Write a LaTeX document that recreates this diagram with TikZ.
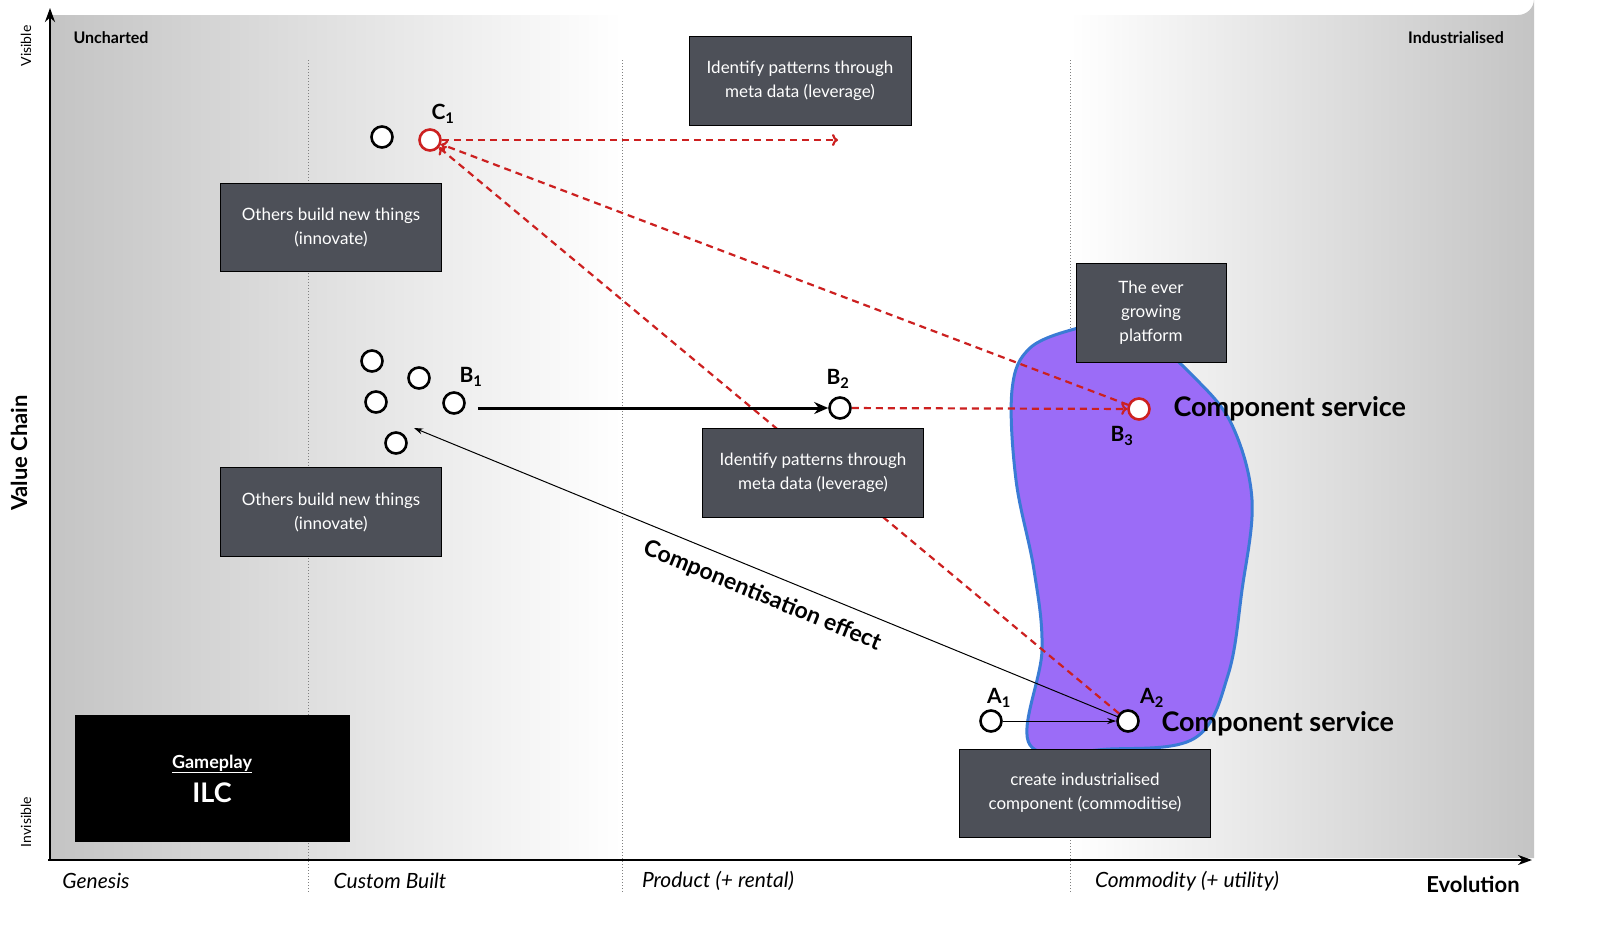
\documentclass[tikz,border=0pt]{standalone}
\usepackage{fontspec}
\setmainfont{Lato}
\usetikzlibrary{arrows.meta}
\definecolor{boxg}{HTML}{4D5058}
\definecolor{bgg}{HTML}{C4C4C4}
\definecolor{blob}{HTML}{9B6CF7}
\definecolor{blobb}{HTML}{3A7BD5}
\definecolor{rd}{HTML}{CC2020}
\begin{document}
\begin{tikzpicture}[x=1pt,y=-1pt,
  box/.style={fill=boxg,draw=black,line width=0.8pt,text=white,align=center,font=\fontsize{17}{24}\selectfont,inner sep=0pt},
  dot/.style={circle,draw=black,line width=2.6pt,fill=white,minimum size=21pt,inner sep=0pt},
  rdot/.style={dot,draw=rd},
  lab/.style={font=\bfseries\fontsize{21}{24}\selectfont},
  cs/.style={font=\bfseries\fontsize{27}{30}\selectfont,anchor=west},
  ax/.style={font=\itshape\fontsize{21}{24}\selectfont},
  rarr/.style={rd,dashed,line width=2.2pt,dash pattern=on 7pt off 5pt,-{To[length=6pt,width=12pt]}},
  vl/.style={gray,dotted,line width=1pt}]
\useasboundingbox (0,0) rectangle (1600,930);
\fill[white] (0,0) rectangle (1600,930);
% background
\shade[left color=bgg,right color=white] (50,15) rectangle (622,858);
\shade[left color=white,right color=bgg] (1070,15) -- (1518,15) arc[start angle=90,end angle=0,radius=16] -- (1534,858) -- (1070,858) -- cycle;
% dotted lines
\foreach \x in {308,622,1070} \draw[vl] (\x,60) -- (\x,893);
% axes
\draw[line width=2.5pt,-{Stealth[length=14pt,width=10pt]}] (50,860) -- (50,8);
\draw[line width=2.5pt,-{Stealth[length=14pt,width=10pt]}] (48,860) -- (1532,860);
\node[ax] (g) at (96,881) {Genesis};
\node[ax] (cb) at (390,881) {Custom Built};
\node[ax] (pr) at (718,881) {Product (+ rental)};
\node[ax] (co) at (1187,881) {Commodity (+ utility)};
\node[font=\bfseries\fontsize{22}{24}\selectfont] (ev) at (1473,884) {Evolution};
\node[rotate=90,font=\bfseries\fontsize{22}{24}\selectfont] (vc) at (19,453) {Value Chain};
\node[rotate=90,font=\fontsize{14}{16}\selectfont] (vis) at (26,46) {Visible};
\node[rotate=90,font=\fontsize{14}{16}\selectfont] (inv) at (26,822) {Invisible};
\node[font=\bfseries\fontsize{16}{18}\selectfont] (un) at (111,38) {Uncharted};
\node[font=\bfseries\fontsize{16}{18}\selectfont] (ind) at (1456,38) {Industrialised};
% blob
\draw[fill=blob,draw=blobb,line width=3pt] plot[smooth cycle,tension=0.6] coordinates {(1078,328) (1030,348) (1012,390) (1016,480) (1034,570) (1042,650) (1030,745) (1110,749) (1195,738) (1228,675) (1242,590) (1252,500) (1232,425) (1195,378) (1150,340) (1105,326)};
% nodes
\node[dot] (o1) at (382,137) {};
\node[rdot] (c1) at (430,140) {};
\node[dot] (o2) at (372,361) {};
\node[dot] (o3) at (419,378) {};
\node[dot] (o4) at (376,402) {};
\node[dot] (b1) at (454,403) {};
\node[dot] (o5) at (396,443) {};
\node[dot] (b2) at (840,408) {};
\node[rdot] (b3) at (1139,409) {};
\node[dot] (a1) at (991,721) {};
\node[dot] (a2) at (1128,721) {};
\coordinate (cend) at (838,140);
% connectors
\draw[rarr] (c1) -- (cend);
\draw[rarr] (b3) -- (c1);
\draw[rarr] (a2) -- (c1);
\draw[rarr] (b2) -- (b3);
\draw[line width=3pt,-{Stealth[length=14pt,width=12pt]}] (b1.east)++(12,5) -- (b2);
\draw[line width=1pt,-{Stealth[length=9pt,width=6pt]}] (a2) -- (414,428);
\draw[line width=1pt,-{Stealth[length=9pt,width=6pt]}] (a1) -- (a2);
\node[rotate=-22.3,font=\bfseries\fontsize{23}{26}\selectfont] (ce) at (762,596) {Componentisation effect};
% labels
\node[lab] (lc1) at (443,114) {C\textsubscript{1}};
\node[lab] (lb1) at (471,377) {B\textsubscript{1}};
\node[lab] (lb2) at (838,379) {B\textsubscript{2}};
\node[lab] (lb3) at (1122,436) {B\textsubscript{3}};
\node[lab] (la1) at (999,698) {A\textsubscript{1}};
\node[lab] (la2) at (1152,698) {A\textsubscript{2}};
\node[cs] (cs1) at (1170,409) {Component service};
\node[cs] (cs2) at (1158,724) {Component service};
% boxes
\node[box,minimum width=222pt,minimum height=89pt] (bx1) at (800,81) {Identify patterns through\\meta data (leverage)};
\node[box,minimum width=221pt,minimum height=88pt] (bx2) at (331,227) {Others build new things\\(innovate)};
\node[box,minimum width=221pt,minimum height=89pt] (bx3) at (331,512) {Others build new things\\(innovate)};
\node[box,minimum width=221pt,minimum height=89pt] (bx4) at (813,473) {Identify patterns through\\meta data (leverage)};
\node[box,minimum width=150pt,minimum height=99pt] (bx5) at (1151,313) {The ever\\growing\\platform};
\node[box,minimum width=251pt,minimum height=88pt] (bx6) at (1085,793) {create industrialised\\component (commoditise)};
\node[fill=black,minimum width=275pt,minimum height=127pt,inner sep=0pt] (gp) at (212,778) {};
\node[text=white,font=\bfseries\fontsize{18}{22}\selectfont] (gpt) at (212,764) {\underline{Gameplay}};
\node[text=white,font=\bfseries\fontsize{27}{30}\selectfont] (ilc) at (212,793) {ILC};
\end{tikzpicture}
\end{document}
